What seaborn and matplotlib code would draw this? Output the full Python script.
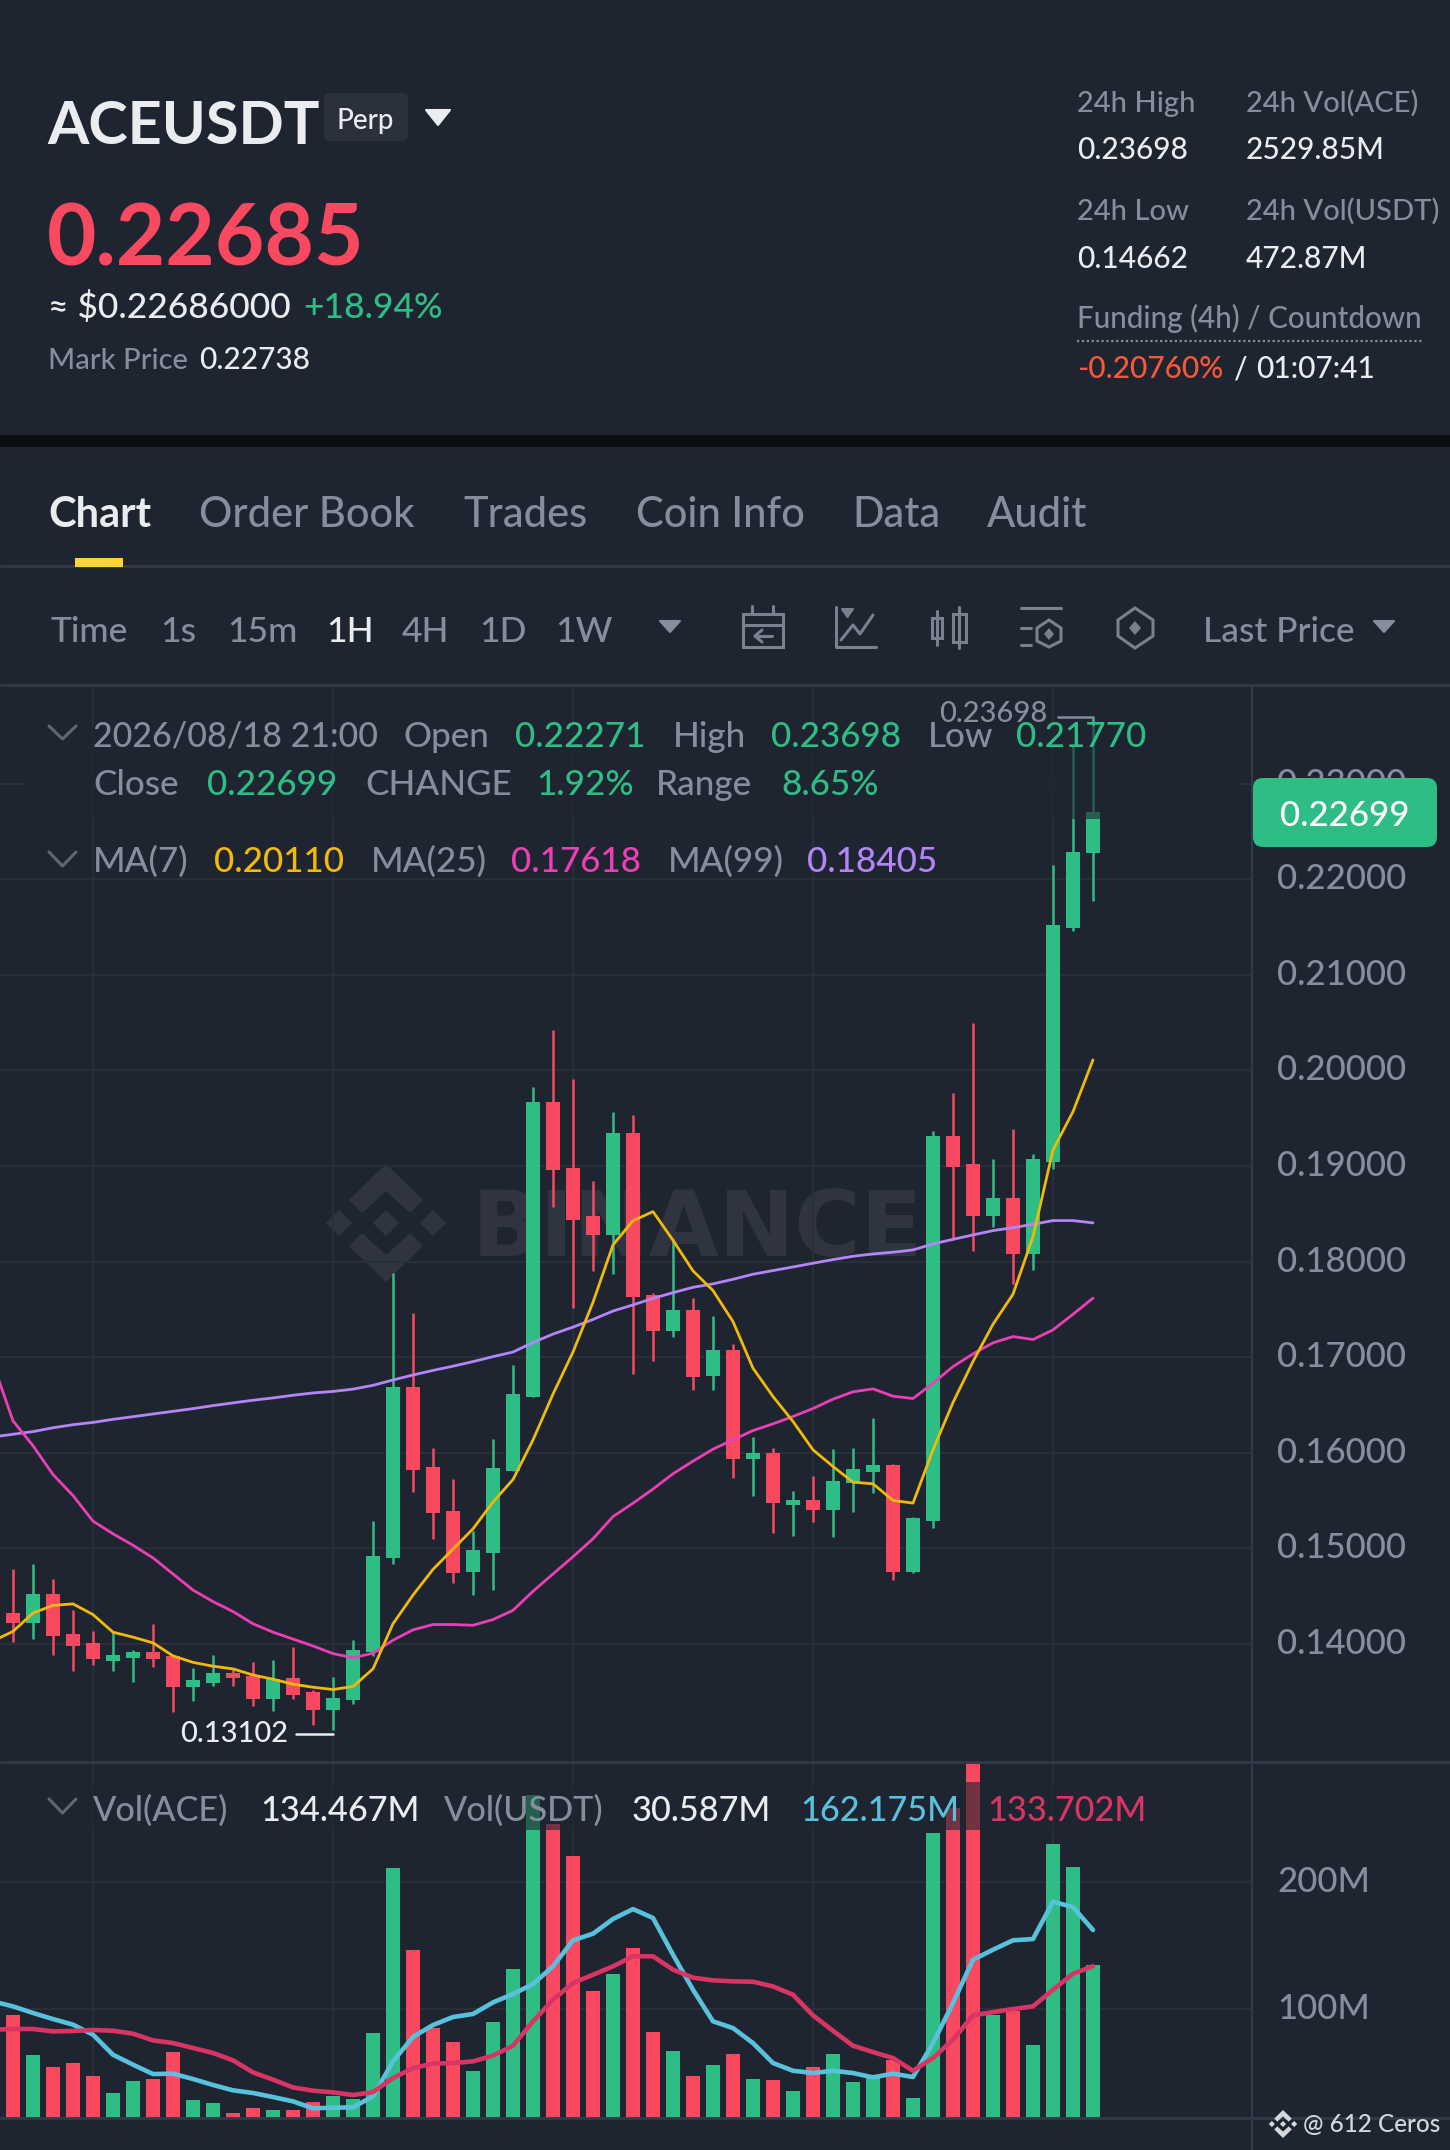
import numpy as np
import pandas as pd
import matplotlib
matplotlib.use("Agg")
import matplotlib.pyplot as plt
from matplotlib.patches import FancyBboxPatch, Polygon, Rectangle
from matplotlib.transforms import ScaledTranslation
import seaborn as sns

# Candles, oldest first
opens = [.1432, .1422, .1452, .1411, .1401, .1382, .1385, .1392, .1387, .1355, .1359, .1370, .1367, .1343,
         .1364, .1350, .1331, .1341, .1392, .1490, .1669, .1585, .1539, .1475, .1495, .1581, .1658, .1967,
         .1898, .1848, .1828, .1935, .1765, .1727, .1749, .1680, .1708, .1594, .1600, .1545, .1551, .1540,
         .1568, .1580, .1587, .1475, .1529, .1931, .1902, .1848, .1866, .1808, .1904, .2149, .22271]
closes = [.1422, .1452, .1408, .1398, .1384, .1388, .1392, .1384, .1355, .1362, .1370, .1364, .1343, .1363,
          .1347, .1331, .1344, .1394, .1492, .1669, .1582, .1537, .1474, .1498, .1584, .1661, .1967, .1896,
          .1844, .1828, .1935, .1763, .1727, .1749, .1679, .1708, .1594, .1600, .1547, .1551, .1540, .1570,
          .1583, .1587, .1475, .1532, .1931, .1899, .1848, .1866, .1808, .1907, .2152, .2228, .22699]
highs = [.1478, .1484, .1468, .1436, .1414, .1413, .1394, .1421, .1389, .1375, .1388, .1374, .1381, .1383,
         .1397, .1352, .1365, .1404, .1529, .1788, .1746, .1605, .1573, .1518, .1614, .1692, .1983, .2042,
         .1991, .1884, .1956, .1953, .1767, .1824, .1762, .1743, .1714, .1617, .1605, .1560, .1576, .1604,
         .1605, .1636, .1588, .1533, .1937, .1976, .2050, .1907, .1939, .1913, .2215, .2339, .23698]
lows = [.1402, .1405, .1389, .1372, .1378, .1372, .1360, .1376, .1329, .1340, .1356, .1356, .1335, .1330,
        .1343, .1315, .13102, .1337, .1387, .1484, .1559, .1510, .1464, .1451, .1456, .1581, .1658, .1857,
        .1751, .1790, .1787, .1682, .1696, .1721, .1666, .1666, .1574, .1555, .1516, .1513, .1528, .1512,
        .1538, .1558, .1467, .1474, .1521, .1823, .1811, .1836, .1777, .1791, .1897, .2146, .21770]

# Moving averages start one candle before the first visible one
ma7 = [.14032, .14132, .14324, .14404, .14420, .14308, .14124, .14072, .14012, .13876, .13808, .13768, .13740,
       .13676, .13632, .13580, .13548, .13524, .13556, .13740, .14212, .14512, .14781, .14993, .15205, .15485,
       .15721, .16134, .16614, .17054, .17575, .18175, .18427, .18523, .18223, .17903, .17697, .17373, .16885,
       .16589, .16328, .16031, .15857, .15693, .15676, .15502, .15474, .16031, .16526, .16955, .17345, .17659,
       .18261, .19167, .19568, .20110]
ma25 = [.16934, .16334, .16074, .15773, .15553, .15285, .15153, .15033, .14901, .14733, .14564, .14444, .14340,
        .14212, .14124, .14052, .13980, .13900, .13856, .13904, .14040, .14148, .14204, .14204, .14196, .14256,
        .14352, .14552, .14733, .14913, .15101, .15333, .15473, .15621, .15781, .15913, .16038, .16136, .16233,
        .16303, .16380, .16463, .16561, .16638, .16669, .16592, .16568, .16728, .16902, .17035, .17150, .17216,
        .17185, .17286, .17449, .17618]
ma99 = [.16166, .16194, .16222, .16262, .16294, .16318, .16350, .16378, .16406, .16434, .16462, .16494, .16522,
        .16550, .16574, .16602, .16626, .16642, .16666, .16706, .16762, .16814, .16862, .16906, .16954, .17006,
        .17054, .17154, .17242, .17315, .17395, .17483, .17547, .17615, .17675, .17731, .17767, .17815, .17868,
        .17906, .17944, .17983, .18021, .18056, .18080, .18098, .18122, .18185, .18233, .18279, .18324, .18355,
        .18390, .18429, .18429, .18405]

# Volume panel, millions
volumes = [95.3, 64.0, 54.1, 57.7, 47.0, 33.9, 43.6, 45.1, 65.9, 28.6, 26.0, 18.1, 22.3, 20.5, 20.7, 26.5, 31.2,
           29.1, 80.8, 211.0, 146.2, 85.0, 73.8, 51.4, 89.5, 131.5, 268.5, 245.9, 220.7, 114.4, 127.6, 148.3,
           81.6, 67.2, 47.5, 55.9, 64.8, 44.9, 43.8, 35.2, 54.3, 64.8, 42.7, 45.7, 60.1, 30.2, 238.6, 258.3,
           296.9, 95.5, 98.2, 71.9, 229.7, 211.8, 134.467]
vol_ma_fast = [106.0, 102.1, 96.9, 92.1, 87.7, 79.8, 64.0, 56.2, 48.8, 49.1, 44.9, 40.2, 36.0, 33.9, 30.7, 27.3,
               21.8, 22.3, 22.6, 31.2, 58.8, 78.0, 87.4, 93.7, 96.1, 105.2, 111.8, 119.7, 133.6, 154.1, 159.3,
               170.9, 178.7, 171.7, 142.8, 115.2, 90.3, 85.0, 73.2, 57.5, 51.4, 49.6, 51.4, 49.6, 46.2, 49.1,
               46.5, 73.2, 104.7, 138.8, 146.7, 154.1, 155.1, 184.5, 180.3, 162.175]
vol_ma_slow = [83.7, 84.3, 84.3, 82.4, 82.7, 83.5, 82.9, 80.6, 75.3, 73.2, 69.3, 65.4, 59.6, 50.1, 44.4, 38.3,
               35.7, 34.4, 32.3, 34.6, 45.7, 53.5, 57.0, 57.5, 58.8, 63.3, 71.1, 90.3, 107.3, 120.5, 127.0,
               133.6, 141.5, 141.5, 131.0, 124.7, 122.6, 121.8, 121.5, 117.8, 111.3, 95.0, 82.9, 71.1, 66.1,
               61.4, 51.4, 61.4, 75.9, 95.0, 97.6, 100.0, 102.1, 115.2, 127.8, 133.702]

price_ticks = [.14, .15, .16, .17, .18, .19, .20, .21, .22, .23]
vol_ticks = [100, 200]
time_ticks = [4, 16, 28, 40, 52]

BG = "#1e2530"
GRID = "#2a303b"
SEP = "#333a47"
GREEN = "#2ebd85"
RED = "#f84960"
GRAY = "#848e9c"
WHITE = "#eaecef"
YELLOW = "#f0b90b"
PINK = "#eb40b5"
PURPLE = "#b385f8"
BLUE = "#59c1dc"
CRIMSON = "#d83565"
MARK = "#2f3440"

sns.set_theme(style="dark", rc={"figure.facecolor": BG, "axes.facecolor": "none", "savefig.facecolor": BG})
plt.rcParams["font.family"] = ["Lato", "DejaVu Sans"]

W, H = 1450, 2150
fig = plt.figure(figsize=(W / 100, H / 100), dpi=100)


def box(left, top, right, bottom):
    return [left / W, (H - bottom) / H, (right - left) / W, (bottom - top) / H]


# background layer holds the watermark, the ui layer everything on top of the charts
back = fig.add_axes([0, 0, 1, 1], zorder=0)
ax = fig.add_axes(box(0, 685, 1252, 1762), zorder=1)
vol_ax = fig.add_axes(box(0, 1762, 1252, 2118), zorder=1)
ui = fig.add_axes([0, 0, 1, 1], zorder=2)
for layer in (back, ui):
    layer.set_xlim(0, W)
    layer.set_ylim(H, 0)
    layer.axis("off")
    layer.patch.set_alpha(0)

idx = np.arange(len(opens))
ma_idx = np.arange(-1, len(opens))
up = np.array(closes) >= np.array(opens)
candle_colors = np.where(up, GREEN, RED)

# price panel
ax.vlines(idx, lows, highs, colors=candle_colors, linewidth=1.8, zorder=2)
ax.bar(idx, np.abs(np.array(closes) - np.array(opens)), bottom=np.minimum(opens, closes), width=0.7,
       color=candle_colors, linewidth=0, zorder=2)
for values, color in [(ma99, PURPLE), (ma25, PINK), (ma7, YELLOW)]:
    sns.lineplot(x=ma_idx, y=values, color=color, linewidth=2.0, estimator=None, ax=ax, zorder=3)

# extreme markers hang a little off the price they name
ax.plot([14.15, 16], [.13102, .13102], color=WHITE, linewidth=1.8, zorder=4,
        transform=ax.transData + ScaledTranslation(0, -3 / 72, fig.dpi_scale_trans))
ax.annotate("0.13102", (13.75, .13102), xytext=(0, -3), textcoords="offset points", color=WHITE, fontsize=21,
            fontweight="medium", ha="right", va="center", zorder=4)
ax.plot([52.25, 54], [.23698, .23698], color=GRAY, linewidth=1.8, zorder=4)
ax.annotate("0.23698", (51.7, .23698), xytext=(0, 2), textcoords="offset points", color=GRAY, fontsize=21,
            fontweight="medium", ha="right", va="center", zorder=4)

ax.set_xlim(-0.65, 61.95)
ax.set_ylim(.12766, .24031)
ax.set_yticks(price_ticks, [f"{t:.5f}" for t in price_ticks])

# volume panel
vol_df = pd.DataFrame({"i": idx, "vol": volumes, "side": np.where(up, "up", "down")})
sns.barplot(data=vol_df, x="i", y="vol", hue="side", palette={"up": GREEN, "down": RED}, native_scale=True,
            width=0.7, dodge=False, saturation=1, legend=False, linewidth=0, ax=vol_ax, zorder=2)
sns.lineplot(x=ma_idx, y=vol_ma_fast, color=BLUE, linewidth=3.3, estimator=None, ax=vol_ax, zorder=3)
sns.lineplot(x=ma_idx, y=vol_ma_slow, color=CRIMSON, linewidth=3.3, estimator=None, ax=vol_ax, zorder=3)
vol_ax.set_xlim(-0.65, 61.95)
vol_ax.set_ylim(14.2, 294.5)
vol_ax.set_yticks(vol_ticks, [f"{t}M" for t in vol_ticks])

for a in (ax, vol_ax):
    a.set_xlabel("")
    a.set_ylabel("")
    a.set_xticks(time_ticks)
    a.grid(True, color=GRID, linewidth=1.4)
    a.set_axisbelow(True)
    a.yaxis.tick_right()
    a.tick_params(axis="x", length=0, labelbottom=False)
    a.tick_params(axis="y", length=0, pad=18, labelsize=25, labelcolor=GRAY)
    # tick_right draws label2, not the label1 that get_yticklabels gives
    for tick in a.yaxis.get_major_ticks():
        tick.label2.set_fontweight("medium")
        tick.label2.set_verticalalignment("center")
    for spine in a.spines.values():
        spine.set_visible(False)


def put(x, y, s, size, color=GRAY, weight="medium", layer=None, **kw):
    (layer or ui).text(x, y, s, fontsize=size, color=color, fontweight=weight, va="baseline", zorder=5, **kw)


def tri(x0, x1, y0, y1, color=GRAY):
    ui.add_patch(Polygon([(x0, y0), (x1, y0), ((x0 + x1) / 2, y1)], closed=True, facecolor=color,
                         edgecolor=color, linewidth=1.5, joinstyle="round", zorder=5))


def chevron(x0, x1, y0, y1):
    ui.plot([x0, (x0 + x1) / 2, x1], [y0, y1, y0], color="#5e6673", linewidth=2.2, zorder=5)


def logo(layer, cx, cy, s, color, z=0):
    top = [(0, -59), (37, -23), (24, -10), (0, -32), (-24, -10), (-37, -23)]
    for sign in (1, -1):
        pts = [(cx + px * s, cy + sign * py * s) for px, py in top]
        layer.add_patch(Polygon(pts, closed=True, facecolor=color, edgecolor="none", zorder=z))
    for dx in (-47, 0, 47):
        d = 13 * s
        pts = [(cx + dx * s - d, cy), (cx + dx * s, cy - d), (cx + dx * s + d, cy), (cx + dx * s, cy + d)]
        layer.add_patch(Polygon(pts, closed=True, facecolor=color, edgecolor="none", zorder=z))


# watermark
logo(back, 386, 1223, 1, MARK)
back.text(472, 1256, "BINANCE", fontsize=65, fontweight="bold", family="DejaVu Sans", color=MARK, va="baseline")

# bands and separators
ui.add_patch(Rectangle((0, 435), W, 12, facecolor="#0b0e11", edgecolor="none"))
for y in (565.5, 685, 1762, 2118):
    ui.plot([0, W], [y, y], color=SEP, linewidth=2, zorder=1, solid_capstyle="butt")
ui.plot([1252, 1252], [685, H], color=SEP, linewidth=1.6, zorder=1)
ui.add_patch(Rectangle((75, 558), 48, 9, facecolor="#fcd535", edgecolor="none", zorder=2))

# legends sit on translucent strips that dim what is under them
for top, bottom in [(726, 819), (1782, 1830)]:
    ui.add_patch(Rectangle((24, top), 1216, bottom - top, facecolor=BG, alpha=0.62, edgecolor="none", zorder=2))

# header left
put(47, 144, "ACEUSDT", 42.8, WHITE, "bold")
ui.add_patch(FancyBboxPatch((328, 97), 76, 40, boxstyle="round,pad=4,rounding_size=6", facecolor="#2a303c",
                            edgecolor="none"))
put(337, 129, "Perp", 20, WHITE)
tri(426, 450, 110, 125, WHITE)
put(47, 265, "0.22685", 61.6, RED, "bold")
put(48, 318, "≈ $0.22686000", 25.5, WHITE)
put(303, 318, "+18.94%", 25.5, GREEN)
put(48, 369, "Mark Price", 21, GRAY)
put(199, 369, "0.22738", 21.5, WHITE)

# header right
put(1077, 112, "24h High", 21)
put(1246, 112, "24h Vol(ACE)", 21)
put(1077, 159, "0.23698", 21.5, WHITE)
put(1246, 159, "2529.85M", 21.5, WHITE)
put(1077, 220, "24h Low", 21)
put(1246, 220, "24h Vol(USDT)", 21)
put(1077, 268, "0.14662", 21.5, WHITE)
put(1246, 268, "472.87M", 21.5, WHITE)
put(1077, 328, "Funding (4h) / Countdown", 21.3)
ui.plot([1077, 1422], [341, 341], color=GRAY, linewidth=1.6, linestyle=(0, (1, 1.2)))
put(1077, 378, "-0.20760%", 21.5, "#f6583a")
put(1233, 378, "/", 21.5, WHITE)
put(1256, 378, "01:07:41", 21.5, WHITE)

# tabs
for x, s, c in [(48, "Chart", WHITE), (199, "Order Book", GRAY), (463, "Trades", GRAY), (636, "Coin Info", GRAY),
                (852, "Data", GRAY), (987, "Audit", GRAY)]:
    put(x, 527, s, 30, c, "bold" if s == "Chart" else "medium")

# toolbar
for x, s, c in [(51, "Time", GRAY), (160, "1s", GRAY), (227, "15m", GRAY), (326, "1H", WHITE), (402, "4H", GRAY),
                (479, "1D", GRAY), (555, "1W", GRAY), (1203, "Last Price", GRAY)]:
    put(x, 642, s, 25.5, c)
tri(660, 680, 621, 632)
tri(1374, 1394, 621, 632)

ICON = "#79818e"
kw = dict(color=ICON, linewidth=2.2, zorder=5)
# calendar
ui.add_patch(Rectangle((743, 614), 40, 33, facecolor="none", edgecolor=ICON, linewidth=2.2, zorder=5))
ui.plot([743, 783], [625, 625], **kw)
ui.plot([752, 752], [606, 614], **kw)
ui.plot([773, 773], [606, 614], **kw)
ui.plot([755, 772], [636, 636], **kw)
ui.plot([762, 755, 762], [630, 636, 642], **kw)
# line chart
ui.plot([836, 836, 876], [607, 647, 647], **kw)
ui.plot([841, 853, 860, 873], [640, 625, 634, 615], **kw)
tri(842, 853, 609, 617, ICON)
# candles
ui.add_patch(Rectangle((932, 618), 10, 20, facecolor="none", edgecolor=ICON, linewidth=2.2, zorder=5))
ui.add_patch(Rectangle((953, 614), 13, 28, facecolor="none", edgecolor=ICON, linewidth=2.2, zorder=5))
ui.plot([937, 937], [611, 645], **kw)
ui.plot([959.5, 959.5], [607, 648], **kw)
# settings
ui.plot([1021, 1061], [608, 608], **kw)
ui.plot([1021, 1031], [628, 628], **kw)
ui.plot([1021, 1031], [645, 645], **kw)
ui.add_patch(Polygon([(1049, 620), (1061, 628), (1061, 641), (1049, 647), (1037, 641), (1037, 628)], closed=True,
                     facecolor="none", edgecolor=ICON, linewidth=2.2, zorder=5))
ui.add_patch(Polygon([(1049, 628), (1054, 634), (1049, 640), (1044, 634)], closed=True, facecolor=ICON,
                     edgecolor="none", zorder=5))
# hexagon
ui.add_patch(Polygon([(1135, 608), (1153, 620), (1153, 636), (1135, 648), (1118, 636), (1118, 620)], closed=True,
                     facecolor="none", edgecolor=ICON, linewidth=2.2, zorder=5))
ui.add_patch(Polygon([(1135, 621), (1141, 628), (1135, 635), (1129, 628)], closed=True, facecolor=ICON,
                     edgecolor="none", zorder=5))

# price legend
chevron(49, 76, 726, 739)
put(93, 747, "2026/08/18 21:00", 24.5, GRAY)
for x, s, c in [(404, "Open", GRAY), (515, "0.22271", GREEN), (673, "High", GRAY), (771, "0.23698", GREEN),
                (928, "Low", GRAY), (1016, "0.21770", GREEN)]:
    put(x, 747, s, 25.2, c)
for x, s, c in [(93, "Close", GRAY), (207, "0.22699", GREEN), (365, "CHANGE", GRAY), (536, "1.92%", GREEN),
                (656, "Range", GRAY), (781, "8.65%", GREEN)]:
    put(x, 795, s, 25.2, c)
chevron(49, 76, 852, 866)
for x, s, c in [(93, "MA(7)", GRAY), (214, "0.20110", YELLOW), (371, "MA(25)", GRAY), (511, "0.17618", PINK),
                (668, "MA(99)", GRAY), (807, "0.18405", PURPLE)]:
    put(x, 872, s, 25.2, c)

# last price badge
ui.add_patch(FancyBboxPatch((1263, 788), 164, 49, boxstyle="round,pad=10,rounding_size=10", facecolor=GREEN,
                            edgecolor="none", zorder=4))
ui.text(1345, 813, "0.22699", color="white", fontsize=25, fontweight="medium", ha="center", va="center_baseline",
        zorder=5)

# volume legend
chevron(49, 76, 1799, 1813)
for x, s, c in [(93, "Vol(ACE)", GRAY), (260, "134.467M", WHITE), (444, "Vol(USDT)", GRAY), (632, "30.587M", WHITE),
                (800, "162.175M", BLUE), (987, "133.702M", CRIMSON)]:
    put(x, 1821, s, 24.7, c)

# credit
logo(ui, 1283, 2124, 14 / 59, "#d5d8dc", z=5)
put(1303, 2132, "@ 612 Ceros", 17.5, "#d5d8dc")

fig.savefig("out.png", dpi=100)
